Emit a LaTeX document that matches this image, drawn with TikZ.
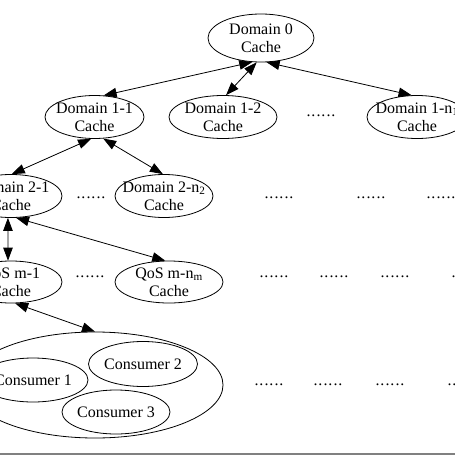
\documentclass[tikz,border=0pt]{standalone}
\usepackage{fontspec}
\setmainfont{Liberation Serif}
\usetikzlibrary{arrows.meta}
\usetikzlibrary{shapes}

\newcommand{\dotrow}{.\kern1pt.\kern1pt.\kern1pt.\kern1pt.\kern1pt.}

\begin{document}
\begin{tikzpicture}[x=1pt,y=-1pt,line width=0.8pt,
    every node/.style={font=\fontsize{16}{18}\selectfont},
    cache/.style={draw,ellipse,align=center,inner sep=-15pt,minimum width=#1,minimum height=43pt},
    cache/.default=100pt,
    link/.style={{Triangle[length=13pt,width=9.5pt]}-{Triangle[length=13pt,width=9.5pt]}}]
          \useasboundingbox (0,0) rectangle (455,455);
          \clip (0,0) rectangle (455,455);
          \fill[gray] (0,453) rectangle (455,455);
          % caches
          \node[cache=106pt,minimum height=48pt] (domainZero) at (261,38) {Domain 0\\Cache};
          \node[cache=99pt] (domainOneOne) at (94.5,117) {Domain 1-1\\Cache};
          \node[cache=108pt] (domainOneTwo) at (223,117) {Domain 1-2\\Cache};
          \node[cache=100pt] (domainOneN) at (417,117) {Domain 1-n\textsubscript{1}\\Cache};
          \node[cache=102pt] (domainTwoOne) at (11,196) {Domain 2-1\\Cache};
          \node[cache=98pt] (domainTwoN) at (164,196) {Domain 2-n\textsubscript{2}\\Cache};
          \node[cache=102pt,minimum height=42pt] (qosOne) at (11,282) {QoS m-1\\Cache};
          \node[cache=108pt,minimum height=42pt] (qosN) at (169,282) {QoS m-n\textsubscript{m}\\Cache};
          % consumers
          \node[draw,ellipse,minimum width=256pt,minimum height=106pt] (consumerGroup) at (95,385) {};
          \node[cache=110pt,minimum height=44pt] (consumerOne) at (33,380) {Consumer 1};
          \node[cache=109pt,minimum height=45pt] (consumerTwo) at (143,364) {Consumer 2};
          \node[cache=108pt,minimum height=44pt] (consumerThree) at (116,412) {Consumer 3};
          % dots
          \node (dotsA) at (321,116) {\dotrow};
          \node (dotsB) at (91,198) {\dotrow};
          \node (dotsC) at (279,198) {\dotrow};
          \node (dotsD) at (371,198) {\dotrow};
          \node (dotsE) at (441,198) {\dotrow};
          \node (dotsF) at (90,277) {\dotrow};
          \node (dotsG) at (274,277) {\dotrow};
          \node (dotsH) at (334,277) {\dotrow};
          \node (dotsI) at (395,277) {\dotrow};
          \node (dotsJ) at (466,277) {\dotrow};
          \node (dotsK) at (269,385) {\dotrow};
          \node (dotsL) at (328,385) {\dotrow};
          \node (dotsM) at (390,385) {\dotrow};
          \node (dotsN) at (462,385) {\dotrow};
          % links
          \draw[link] (domainZero.250) -- (domainOneOne.67);
          \draw[link] (domainZero.260) -- (domainOneTwo.82);
          \draw[link] (domainZero.283) -- (domainOneN.104);
          \draw[link] (domainOneOne.261) -- (domainTwoOne.88);
          \draw[link] (domainOneOne.292) -- (domainTwoN.93);
          \draw[link] (domainTwoOne.262) -- (qosOne.98);
          \draw[link] (domainTwoOne.283) -- (qosN.100);
          \draw[link] (qosOne.281) -- (consumerGroup.90);
        \end{tikzpicture}
\end{document}
